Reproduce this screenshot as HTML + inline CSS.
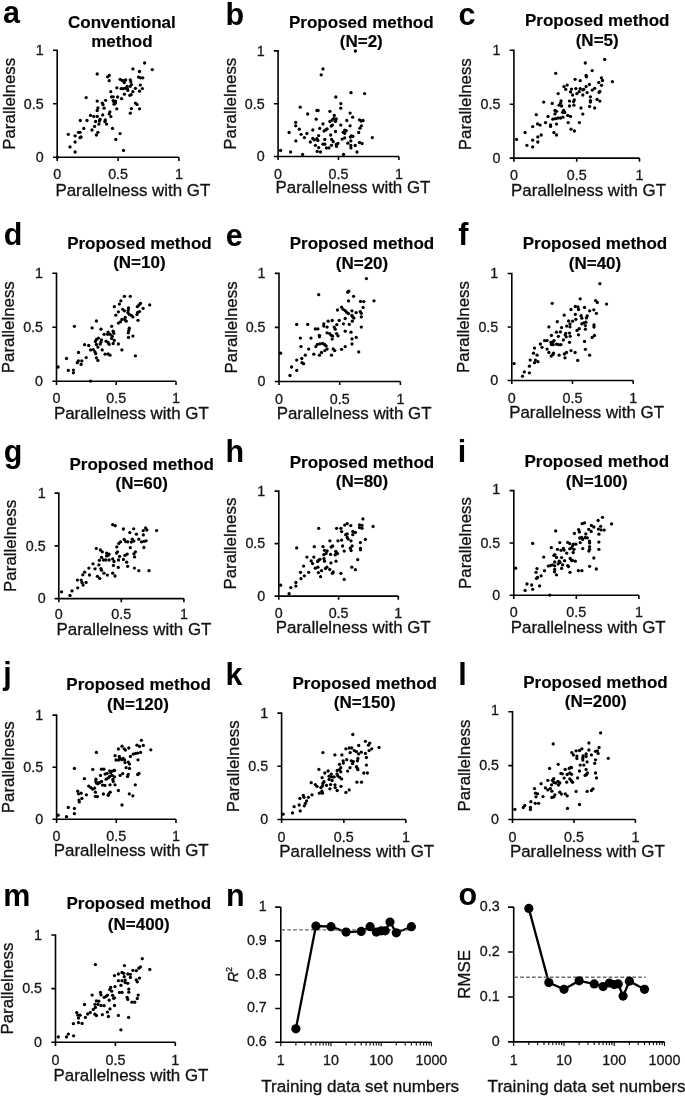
<!DOCTYPE html>
<html><head><meta charset="utf-8"><title>Figure</title>
<style>html,body{margin:0;padding:0;background:#fff}svg{display:block}text{font-family:'Liberation Sans', sans-serif;fill:#1a1a1a}.pl{font-size:30.5px;font-weight:bold;fill:#000}.tt{font-size:17px;font-weight:bold;text-anchor:middle;fill:#000;stroke:#000;stroke-width:.15px}.tk{font-size:14.3px;fill:#161616;stroke:#161616;stroke-width:.3px}.al{font-size:16.9px;fill:#111;stroke:#111;stroke-width:.3px}.ax{stroke:#000;stroke-width:1.6;fill:none}.d circle{fill:#000}</style></head><body>
<svg width="685" height="1098" viewBox="0 0 685 1098">
<rect width="685" height="1098" fill="#fff"/>
<g id="panel-a">
<text class="pl" x="3.1" y="22.8">a</text>
<text class="tt" x="121.9" y="27.6">Conventional</text>
<text class="tt" x="121.9" y="46.7">method</text>
<path class="ax" d="M53.0 50.2H57.2V157.3H178.9M53.0 103.8H57.2M53.0 157.3H57.2M57.2 157.3V160.9M118.1 157.3V160.9M178.9 157.3V160.9"/>
<text class="tk" text-anchor="end" x="43.7" y="55.0">1</text>
<text class="tk" text-anchor="end" x="43.7" y="108.5">0.5</text>
<text class="tk" text-anchor="end" x="43.7" y="162.1">0</text>
<text class="tk" text-anchor="middle" x="57.2" y="179.3">0</text>
<text class="tk" text-anchor="middle" x="118.1" y="179.3">0.5</text>
<text class="tk" text-anchor="middle" x="178.9" y="179.3">1</text>
<text class="al" x="55.4" y="196.3">Parallelness with GT</text>
<text class="al" text-anchor="middle" transform="translate(14.7 103.8) rotate(-90)">Parallelness</text>
<g class="d">
<circle cx="97.2" cy="74.0" r="1.65"/>
<circle cx="107.6" cy="76.8" r="1.65"/>
<circle cx="109.2" cy="75.5" r="1.65"/>
<circle cx="109.2" cy="80.7" r="1.65"/>
<circle cx="110.8" cy="91.7" r="1.65"/>
<circle cx="111.5" cy="96.8" r="1.65"/>
<circle cx="113.2" cy="96.8" r="1.65"/>
<circle cx="86.2" cy="97.6" r="1.65"/>
<circle cx="97.2" cy="101.1" r="1.65"/>
<circle cx="105.6" cy="100.3" r="1.65"/>
<circle cx="102.3" cy="103.1" r="1.65"/>
<circle cx="103.0" cy="104.7" r="1.65"/>
<circle cx="113.2" cy="100.6" r="1.65"/>
<circle cx="114.3" cy="102.3" r="1.65"/>
<circle cx="114.1" cy="104.2" r="1.65"/>
<circle cx="104.1" cy="108.2" r="1.65"/>
<circle cx="97.9" cy="108.0" r="1.65"/>
<circle cx="97.2" cy="110.5" r="1.65"/>
<circle cx="109.9" cy="111.8" r="1.65"/>
<circle cx="109.2" cy="113.9" r="1.65"/>
<circle cx="110.9" cy="116.6" r="1.65"/>
<circle cx="90.5" cy="115.4" r="1.65"/>
<circle cx="93.8" cy="116.4" r="1.65"/>
<circle cx="97.2" cy="116.4" r="1.65"/>
<circle cx="102.7" cy="114.9" r="1.65"/>
<circle cx="100.0" cy="119.5" r="1.65"/>
<circle cx="99.5" cy="121.0" r="1.65"/>
<circle cx="105.3" cy="120.0" r="1.65"/>
<circle cx="104.9" cy="121.5" r="1.65"/>
<circle cx="95.6" cy="121.5" r="1.65"/>
<circle cx="80.3" cy="120.5" r="1.65"/>
<circle cx="87.0" cy="120.5" r="1.65"/>
<circle cx="98.9" cy="124.1" r="1.65"/>
<circle cx="106.6" cy="124.1" r="1.65"/>
<circle cx="94.6" cy="126.4" r="1.65"/>
<circle cx="83.8" cy="128.4" r="1.65"/>
<circle cx="112.5" cy="128.4" r="1.65"/>
<circle cx="92.0" cy="130.0" r="1.65"/>
<circle cx="97.9" cy="132.3" r="1.65"/>
<circle cx="96.4" cy="135.0" r="1.65"/>
<circle cx="78.5" cy="132.3" r="1.65"/>
<circle cx="80.0" cy="132.3" r="1.65"/>
<circle cx="68.3" cy="134.3" r="1.65"/>
<circle cx="75.1" cy="135.8" r="1.65"/>
<circle cx="81.1" cy="136.9" r="1.65"/>
<circle cx="80.0" cy="137.7" r="1.65"/>
<circle cx="75.1" cy="142.0" r="1.65"/>
<circle cx="70.0" cy="146.9" r="1.65"/>
<circle cx="75.1" cy="152.0" r="1.65"/>
<circle cx="57.6" cy="157.3" r="1.65"/>
<circle cx="144.6" cy="63.0" r="1.65"/>
<circle cx="132.9" cy="68.9" r="1.65"/>
<circle cx="152.3" cy="69.6" r="1.65"/>
<circle cx="139.5" cy="71.5" r="1.65"/>
<circle cx="138.5" cy="77.1" r="1.65"/>
<circle cx="140.5" cy="77.8" r="1.65"/>
<circle cx="142.8" cy="77.8" r="1.65"/>
<circle cx="120.1" cy="79.3" r="1.65"/>
<circle cx="122.2" cy="80.4" r="1.65"/>
<circle cx="124.2" cy="80.7" r="1.65"/>
<circle cx="125.7" cy="79.9" r="1.65"/>
<circle cx="124.2" cy="82.5" r="1.65"/>
<circle cx="130.3" cy="79.8" r="1.65"/>
<circle cx="130.8" cy="81.7" r="1.65"/>
<circle cx="131.4" cy="84.7" r="1.65"/>
<circle cx="130.3" cy="86.3" r="1.65"/>
<circle cx="140.3" cy="85.1" r="1.65"/>
<circle cx="142.4" cy="88.6" r="1.65"/>
<circle cx="139.5" cy="91.2" r="1.65"/>
<circle cx="116.8" cy="87.8" r="1.65"/>
<circle cx="121.1" cy="88.6" r="1.65"/>
<circle cx="123.2" cy="88.6" r="1.65"/>
<circle cx="125.2" cy="88.3" r="1.65"/>
<circle cx="127.1" cy="86.3" r="1.65"/>
<circle cx="127.3" cy="88.3" r="1.65"/>
<circle cx="127.8" cy="90.4" r="1.65"/>
<circle cx="135.4" cy="88.3" r="1.65"/>
<circle cx="132.9" cy="91.7" r="1.65"/>
<circle cx="129.8" cy="95.3" r="1.65"/>
<circle cx="131.1" cy="94.7" r="1.65"/>
<circle cx="124.4" cy="94.2" r="1.65"/>
<circle cx="117.6" cy="97.0" r="1.65"/>
<circle cx="121.6" cy="98.7" r="1.65"/>
<circle cx="115.5" cy="101.1" r="1.65"/>
<circle cx="115.5" cy="103.1" r="1.65"/>
<circle cx="116.8" cy="108.8" r="1.65"/>
<circle cx="135.4" cy="103.1" r="1.65"/>
<circle cx="137.0" cy="104.4" r="1.65"/>
<circle cx="131.4" cy="108.6" r="1.65"/>
<circle cx="139.5" cy="108.8" r="1.65"/>
<circle cx="130.3" cy="113.2" r="1.65"/>
<circle cx="120.1" cy="133.6" r="1.65"/>
<circle cx="115.8" cy="139.4" r="1.65"/>
<circle cx="123.5" cy="150.4" r="1.65"/>
</g>
</g>
<g id="panel-b">
<text class="pl" x="225.6" y="25.1">b</text>
<text class="tt" x="361.3" y="27.6">Proposed method</text>
<text class="tt" x="361.3" y="46.9">(N=2)</text>
<path class="ax" d="M273.9 50.9H278.1V156.5H398.9M273.9 103.7H278.1M273.9 156.5H278.1M278.1 156.5V160.1M338.5 156.5V160.1M398.9 156.5V160.1"/>
<text class="tk" text-anchor="end" x="264.6" y="55.7">1</text>
<text class="tk" text-anchor="end" x="264.6" y="108.5">0.5</text>
<text class="tk" text-anchor="end" x="264.6" y="161.3">0</text>
<text class="tk" text-anchor="middle" x="278.1" y="178.5">0</text>
<text class="tk" text-anchor="middle" x="338.5" y="178.5">0.5</text>
<text class="tk" text-anchor="middle" x="398.9" y="178.5">1</text>
<text class="al" x="275.5" y="193.2">Parallelness with GT</text>
<text class="al" text-anchor="middle" transform="translate(235.6 103.7) rotate(-90)">Parallelness</text>
<g class="d">
<circle cx="323.0" cy="68.9" r="1.65"/>
<circle cx="321.2" cy="74.8" r="1.65"/>
<circle cx="300.2" cy="107.2" r="1.65"/>
<circle cx="316.9" cy="110.5" r="1.65"/>
<circle cx="318.1" cy="110.5" r="1.65"/>
<circle cx="329.9" cy="111.3" r="1.65"/>
<circle cx="307.7" cy="114.0" r="1.65"/>
<circle cx="334.3" cy="115.4" r="1.65"/>
<circle cx="316.2" cy="119.2" r="1.65"/>
<circle cx="332.2" cy="120.0" r="1.65"/>
<circle cx="333.8" cy="118.7" r="1.65"/>
<circle cx="329.9" cy="121.5" r="1.65"/>
<circle cx="295.7" cy="122.4" r="1.65"/>
<circle cx="295.7" cy="125.8" r="1.65"/>
<circle cx="323.0" cy="123.9" r="1.65"/>
<circle cx="331.2" cy="126.1" r="1.65"/>
<circle cx="332.4" cy="125.1" r="1.65"/>
<circle cx="319.7" cy="128.4" r="1.65"/>
<circle cx="299.3" cy="129.2" r="1.65"/>
<circle cx="312.8" cy="130.0" r="1.65"/>
<circle cx="327.1" cy="129.0" r="1.65"/>
<circle cx="325.6" cy="129.9" r="1.65"/>
<circle cx="324.1" cy="131.0" r="1.65"/>
<circle cx="289.1" cy="132.5" r="1.65"/>
<circle cx="306.9" cy="133.5" r="1.65"/>
<circle cx="301.1" cy="134.3" r="1.65"/>
<circle cx="330.7" cy="135.0" r="1.65"/>
<circle cx="318.6" cy="135.6" r="1.65"/>
<circle cx="304.4" cy="137.6" r="1.65"/>
<circle cx="312.8" cy="138.4" r="1.65"/>
<circle cx="314.3" cy="139.9" r="1.65"/>
<circle cx="316.9" cy="138.7" r="1.65"/>
<circle cx="317.9" cy="140.4" r="1.65"/>
<circle cx="324.8" cy="139.4" r="1.65"/>
<circle cx="331.7" cy="139.4" r="1.65"/>
<circle cx="295.9" cy="140.9" r="1.65"/>
<circle cx="310.3" cy="142.0" r="1.65"/>
<circle cx="333.2" cy="141.7" r="1.65"/>
<circle cx="323.0" cy="144.2" r="1.65"/>
<circle cx="324.8" cy="144.2" r="1.65"/>
<circle cx="315.4" cy="145.3" r="1.65"/>
<circle cx="331.5" cy="145.3" r="1.65"/>
<circle cx="318.7" cy="147.6" r="1.65"/>
<circle cx="326.4" cy="147.9" r="1.65"/>
<circle cx="328.9" cy="147.9" r="1.65"/>
<circle cx="280.6" cy="150.5" r="1.65"/>
<circle cx="317.2" cy="151.4" r="1.65"/>
<circle cx="320.5" cy="152.0" r="1.65"/>
<circle cx="290.6" cy="152.0" r="1.65"/>
<circle cx="302.6" cy="154.4" r="1.65"/>
<circle cx="355.4" cy="51.0" r="1.65"/>
<circle cx="351.0" cy="92.7" r="1.65"/>
<circle cx="364.6" cy="93.6" r="1.65"/>
<circle cx="335.8" cy="97.0" r="1.65"/>
<circle cx="340.8" cy="103.6" r="1.65"/>
<circle cx="340.8" cy="108.2" r="1.65"/>
<circle cx="350.1" cy="113.1" r="1.65"/>
<circle cx="352.7" cy="117.2" r="1.65"/>
<circle cx="346.8" cy="120.5" r="1.65"/>
<circle cx="359.5" cy="119.8" r="1.65"/>
<circle cx="361.1" cy="121.0" r="1.65"/>
<circle cx="363.1" cy="120.5" r="1.65"/>
<circle cx="336.2" cy="119.0" r="1.65"/>
<circle cx="335.5" cy="121.3" r="1.65"/>
<circle cx="340.8" cy="125.1" r="1.65"/>
<circle cx="350.1" cy="125.8" r="1.65"/>
<circle cx="361.4" cy="125.8" r="1.65"/>
<circle cx="360.0" cy="128.2" r="1.65"/>
<circle cx="358.7" cy="132.5" r="1.65"/>
<circle cx="335.5" cy="131.5" r="1.65"/>
<circle cx="344.7" cy="130.2" r="1.65"/>
<circle cx="346.2" cy="130.7" r="1.65"/>
<circle cx="343.2" cy="132.3" r="1.65"/>
<circle cx="344.7" cy="133.3" r="1.65"/>
<circle cx="351.4" cy="135.8" r="1.65"/>
<circle cx="350.3" cy="137.1" r="1.65"/>
<circle cx="352.9" cy="136.4" r="1.65"/>
<circle cx="372.3" cy="137.6" r="1.65"/>
<circle cx="342.2" cy="139.1" r="1.65"/>
<circle cx="344.7" cy="137.9" r="1.65"/>
<circle cx="350.8" cy="140.9" r="1.65"/>
<circle cx="347.8" cy="143.2" r="1.65"/>
<circle cx="359.5" cy="142.5" r="1.65"/>
<circle cx="362.1" cy="143.5" r="1.65"/>
<circle cx="337.9" cy="143.5" r="1.65"/>
<circle cx="336.3" cy="144.5" r="1.65"/>
<circle cx="336.5" cy="146.4" r="1.65"/>
<circle cx="350.8" cy="145.5" r="1.65"/>
<circle cx="351.0" cy="147.9" r="1.65"/>
<circle cx="355.2" cy="145.5" r="1.65"/>
<circle cx="357.0" cy="152.0" r="1.65"/>
<circle cx="343.5" cy="154.4" r="1.65"/>
</g>
</g>
<g id="panel-c">
<text class="pl" x="458.5" y="24.6">c</text>
<text class="tt" x="597.2" y="26.2">Proposed method</text>
<text class="tt" x="597.2" y="46.1">(N=5)</text>
<path class="ax" d="M509.7 50.2H513.9V158.1H639.5M509.7 104.2H513.9M509.7 158.1H513.9M513.9 158.1V161.7M576.7 158.1V161.7M639.5 158.1V161.7"/>
<text class="tk" text-anchor="end" x="500.4" y="55.0">1</text>
<text class="tk" text-anchor="end" x="500.4" y="109.0">0.5</text>
<text class="tk" text-anchor="end" x="500.4" y="162.9">0</text>
<text class="tk" text-anchor="middle" x="513.9" y="180.1">0</text>
<text class="tk" text-anchor="middle" x="576.7" y="180.1">0.5</text>
<text class="tk" text-anchor="middle" x="639.5" y="180.1">1</text>
<text class="al" x="511.1" y="196.1">Parallelness with GT</text>
<text class="al" text-anchor="middle" transform="translate(471.4 104.2) rotate(-90)">Parallelness</text>
<g class="d">
<circle cx="555.7" cy="73.3" r="1.65"/>
<circle cx="567.2" cy="85.1" r="1.65"/>
<circle cx="564.0" cy="86.6" r="1.65"/>
<circle cx="565.7" cy="89.3" r="1.65"/>
<circle cx="558.2" cy="93.6" r="1.65"/>
<circle cx="543.7" cy="102.1" r="1.65"/>
<circle cx="552.2" cy="103.4" r="1.65"/>
<circle cx="561.1" cy="100.8" r="1.65"/>
<circle cx="560.6" cy="103.1" r="1.65"/>
<circle cx="559.1" cy="105.2" r="1.65"/>
<circle cx="561.6" cy="106.0" r="1.65"/>
<circle cx="569.5" cy="101.1" r="1.65"/>
<circle cx="569.5" cy="106.0" r="1.65"/>
<circle cx="555.0" cy="110.5" r="1.65"/>
<circle cx="556.5" cy="111.3" r="1.65"/>
<circle cx="555.0" cy="113.9" r="1.65"/>
<circle cx="563.6" cy="110.3" r="1.65"/>
<circle cx="562.6" cy="112.3" r="1.65"/>
<circle cx="564.7" cy="112.5" r="1.65"/>
<circle cx="536.3" cy="114.7" r="1.65"/>
<circle cx="548.0" cy="116.4" r="1.65"/>
<circle cx="567.7" cy="115.4" r="1.65"/>
<circle cx="552.9" cy="119.2" r="1.65"/>
<circle cx="555.5" cy="118.7" r="1.65"/>
<circle cx="558.0" cy="118.0" r="1.65"/>
<circle cx="560.6" cy="118.0" r="1.65"/>
<circle cx="562.9" cy="117.2" r="1.65"/>
<circle cx="568.2" cy="122.6" r="1.65"/>
<circle cx="545.5" cy="122.6" r="1.65"/>
<circle cx="537.6" cy="123.9" r="1.65"/>
<circle cx="540.1" cy="125.1" r="1.65"/>
<circle cx="556.5" cy="124.1" r="1.65"/>
<circle cx="550.6" cy="124.8" r="1.65"/>
<circle cx="550.6" cy="126.4" r="1.65"/>
<circle cx="532.7" cy="126.6" r="1.65"/>
<circle cx="525.1" cy="132.5" r="1.65"/>
<circle cx="553.9" cy="132.5" r="1.65"/>
<circle cx="556.5" cy="135.0" r="1.65"/>
<circle cx="541.2" cy="135.0" r="1.65"/>
<circle cx="537.8" cy="136.9" r="1.65"/>
<circle cx="516.6" cy="139.4" r="1.65"/>
<circle cx="532.7" cy="140.2" r="1.65"/>
<circle cx="537.8" cy="142.0" r="1.65"/>
<circle cx="526.9" cy="145.3" r="1.65"/>
<circle cx="532.7" cy="146.9" r="1.65"/>
<circle cx="604.7" cy="59.5" r="1.65"/>
<circle cx="585.3" cy="63.0" r="1.65"/>
<circle cx="592.2" cy="70.6" r="1.65"/>
<circle cx="586.1" cy="75.5" r="1.65"/>
<circle cx="586.4" cy="76.8" r="1.65"/>
<circle cx="575.1" cy="79.3" r="1.65"/>
<circle cx="580.2" cy="80.7" r="1.65"/>
<circle cx="601.4" cy="77.8" r="1.65"/>
<circle cx="602.5" cy="80.5" r="1.65"/>
<circle cx="598.8" cy="82.5" r="1.65"/>
<circle cx="601.5" cy="85.3" r="1.65"/>
<circle cx="612.4" cy="81.7" r="1.65"/>
<circle cx="589.4" cy="84.5" r="1.65"/>
<circle cx="586.1" cy="86.6" r="1.65"/>
<circle cx="571.5" cy="89.1" r="1.65"/>
<circle cx="570.5" cy="91.9" r="1.65"/>
<circle cx="575.9" cy="88.6" r="1.65"/>
<circle cx="580.2" cy="88.6" r="1.65"/>
<circle cx="582.8" cy="89.9" r="1.65"/>
<circle cx="583.8" cy="89.3" r="1.65"/>
<circle cx="579.2" cy="91.7" r="1.65"/>
<circle cx="576.9" cy="93.7" r="1.65"/>
<circle cx="572.6" cy="95.0" r="1.65"/>
<circle cx="594.7" cy="88.3" r="1.65"/>
<circle cx="592.3" cy="90.1" r="1.65"/>
<circle cx="587.1" cy="92.6" r="1.65"/>
<circle cx="599.1" cy="92.4" r="1.65"/>
<circle cx="599.9" cy="91.4" r="1.65"/>
<circle cx="582.8" cy="95.0" r="1.65"/>
<circle cx="590.4" cy="96.8" r="1.65"/>
<circle cx="574.3" cy="99.8" r="1.65"/>
<circle cx="573.6" cy="101.6" r="1.65"/>
<circle cx="590.4" cy="100.6" r="1.65"/>
<circle cx="590.4" cy="102.1" r="1.65"/>
<circle cx="597.1" cy="99.4" r="1.65"/>
<circle cx="599.8" cy="101.1" r="1.65"/>
<circle cx="573.9" cy="105.2" r="1.65"/>
<circle cx="589.6" cy="106.5" r="1.65"/>
<circle cx="594.7" cy="108.0" r="1.65"/>
<circle cx="581.0" cy="108.0" r="1.65"/>
<circle cx="582.8" cy="114.1" r="1.65"/>
<circle cx="570.5" cy="116.4" r="1.65"/>
<circle cx="579.4" cy="122.6" r="1.65"/>
<circle cx="571.0" cy="129.2" r="1.65"/>
<circle cx="574.4" cy="131.0" r="1.65"/>
</g>
</g>
<g id="panel-d">
<text class="pl" x="3.8" y="245.0">d</text>
<text class="tt" x="139.4" y="248.5">Proposed method</text>
<text class="tt" x="139.4" y="268.4">(N=10)</text>
<path class="ax" d="M52.3 273.2H56.5V381.3H176.0M52.3 327.2H56.5M52.3 381.3H56.5M56.5 381.3V384.9M116.2 381.3V384.9M176.0 381.3V384.9"/>
<text class="tk" text-anchor="end" x="43.0" y="278.0">1</text>
<text class="tk" text-anchor="end" x="43.0" y="332.1">0.5</text>
<text class="tk" text-anchor="end" x="43.0" y="386.1">0</text>
<text class="tk" text-anchor="middle" x="56.5" y="403.3">0</text>
<text class="tk" text-anchor="middle" x="116.2" y="403.3">0.5</text>
<text class="tk" text-anchor="middle" x="176.0" y="403.3">1</text>
<text class="al" x="53.9" y="419.3">Parallelness with GT</text>
<text class="al" text-anchor="middle" transform="translate(14.0 327.2) rotate(-90)">Parallelness</text>
<g class="d">
<circle cx="114.3" cy="306.7" r="1.65"/>
<circle cx="96.4" cy="321.0" r="1.65"/>
<circle cx="74.4" cy="326.3" r="1.65"/>
<circle cx="111.7" cy="326.3" r="1.65"/>
<circle cx="92.1" cy="327.9" r="1.65"/>
<circle cx="101.0" cy="329.2" r="1.65"/>
<circle cx="113.2" cy="331.2" r="1.65"/>
<circle cx="113.8" cy="333.3" r="1.65"/>
<circle cx="108.1" cy="332.2" r="1.65"/>
<circle cx="110.2" cy="334.3" r="1.65"/>
<circle cx="107.6" cy="334.3" r="1.65"/>
<circle cx="104.1" cy="334.3" r="1.65"/>
<circle cx="112.2" cy="336.3" r="1.65"/>
<circle cx="111.7" cy="338.4" r="1.65"/>
<circle cx="114.3" cy="340.4" r="1.65"/>
<circle cx="98.4" cy="338.2" r="1.65"/>
<circle cx="96.4" cy="339.4" r="1.65"/>
<circle cx="95.4" cy="341.4" r="1.65"/>
<circle cx="96.4" cy="344.5" r="1.65"/>
<circle cx="97.9" cy="347.1" r="1.65"/>
<circle cx="101.5" cy="339.9" r="1.65"/>
<circle cx="101.0" cy="342.0" r="1.65"/>
<circle cx="100.2" cy="344.0" r="1.65"/>
<circle cx="106.1" cy="341.2" r="1.65"/>
<circle cx="108.1" cy="342.5" r="1.65"/>
<circle cx="109.2" cy="344.3" r="1.65"/>
<circle cx="113.2" cy="343.5" r="1.65"/>
<circle cx="84.6" cy="344.7" r="1.65"/>
<circle cx="88.7" cy="345.5" r="1.65"/>
<circle cx="90.6" cy="349.9" r="1.65"/>
<circle cx="93.3" cy="349.6" r="1.65"/>
<circle cx="94.9" cy="351.7" r="1.65"/>
<circle cx="95.7" cy="353.7" r="1.65"/>
<circle cx="102.2" cy="349.9" r="1.65"/>
<circle cx="105.1" cy="354.2" r="1.65"/>
<circle cx="108.1" cy="354.0" r="1.65"/>
<circle cx="110.0" cy="355.2" r="1.65"/>
<circle cx="78.5" cy="352.5" r="1.65"/>
<circle cx="96.4" cy="357.8" r="1.65"/>
<circle cx="97.9" cy="360.4" r="1.65"/>
<circle cx="86.2" cy="357.6" r="1.65"/>
<circle cx="66.5" cy="358.5" r="1.65"/>
<circle cx="78.3" cy="360.9" r="1.65"/>
<circle cx="77.3" cy="362.7" r="1.65"/>
<circle cx="81.8" cy="360.9" r="1.65"/>
<circle cx="81.1" cy="364.4" r="1.65"/>
<circle cx="58.1" cy="367.0" r="1.65"/>
<circle cx="68.3" cy="370.4" r="1.65"/>
<circle cx="73.4" cy="370.1" r="1.65"/>
<circle cx="73.4" cy="372.8" r="1.65"/>
<circle cx="90.5" cy="381.1" r="1.65"/>
<circle cx="124.4" cy="296.3" r="1.65"/>
<circle cx="130.3" cy="296.3" r="1.65"/>
<circle cx="120.9" cy="300.8" r="1.65"/>
<circle cx="119.4" cy="304.1" r="1.65"/>
<circle cx="149.7" cy="304.9" r="1.65"/>
<circle cx="140.5" cy="303.4" r="1.65"/>
<circle cx="139.0" cy="305.0" r="1.65"/>
<circle cx="137.3" cy="306.7" r="1.65"/>
<circle cx="143.1" cy="308.4" r="1.65"/>
<circle cx="128.5" cy="308.0" r="1.65"/>
<circle cx="128.3" cy="310.3" r="1.65"/>
<circle cx="122.7" cy="309.3" r="1.65"/>
<circle cx="124.4" cy="310.8" r="1.65"/>
<circle cx="118.4" cy="311.8" r="1.65"/>
<circle cx="115.8" cy="315.2" r="1.65"/>
<circle cx="139.5" cy="311.6" r="1.65"/>
<circle cx="137.7" cy="312.3" r="1.65"/>
<circle cx="137.0" cy="314.4" r="1.65"/>
<circle cx="127.8" cy="312.6" r="1.65"/>
<circle cx="129.3" cy="314.4" r="1.65"/>
<circle cx="131.4" cy="315.4" r="1.65"/>
<circle cx="132.9" cy="316.9" r="1.65"/>
<circle cx="138.0" cy="320.3" r="1.65"/>
<circle cx="125.2" cy="317.4" r="1.65"/>
<circle cx="124.7" cy="319.5" r="1.65"/>
<circle cx="126.2" cy="321.2" r="1.65"/>
<circle cx="121.9" cy="319.5" r="1.65"/>
<circle cx="120.4" cy="321.8" r="1.65"/>
<circle cx="118.4" cy="323.1" r="1.65"/>
<circle cx="129.3" cy="328.2" r="1.65"/>
<circle cx="128.8" cy="330.4" r="1.65"/>
<circle cx="128.3" cy="332.8" r="1.65"/>
<circle cx="128.5" cy="337.4" r="1.65"/>
<circle cx="132.9" cy="336.1" r="1.65"/>
<circle cx="118.4" cy="344.0" r="1.65"/>
<circle cx="121.9" cy="349.9" r="1.65"/>
<circle cx="135.4" cy="355.8" r="1.65"/>
</g>
</g>
<g id="panel-e">
<text class="pl" x="225.7" y="246.3">e</text>
<text class="tt" x="362.0" y="248.8">Proposed method</text>
<text class="tt" x="362.0" y="269.0">(N=20)</text>
<path class="ax" d="M274.8 273.4H279.0V381.5H400.4M274.8 327.4H279.0M274.8 381.5H279.0M279.0 381.5V385.1M339.7 381.5V385.1M400.4 381.5V385.1"/>
<text class="tk" text-anchor="end" x="265.5" y="278.2">1</text>
<text class="tk" text-anchor="end" x="265.5" y="332.2">0.5</text>
<text class="tk" text-anchor="end" x="265.5" y="386.3">0</text>
<text class="tk" text-anchor="middle" x="279.0" y="403.5">0</text>
<text class="tk" text-anchor="middle" x="339.7" y="403.5">0.5</text>
<text class="tk" text-anchor="middle" x="400.4" y="403.5">1</text>
<text class="al" x="276.7" y="418.8">Parallelness with GT</text>
<text class="al" text-anchor="middle" transform="translate(236.5 327.4) rotate(-90)">Parallelness</text>
<g class="d">
<circle cx="318.7" cy="294.7" r="1.65"/>
<circle cx="332.2" cy="320.5" r="1.65"/>
<circle cx="328.1" cy="321.2" r="1.65"/>
<circle cx="296.7" cy="324.4" r="1.65"/>
<circle cx="307.7" cy="324.4" r="1.65"/>
<circle cx="323.8" cy="323.8" r="1.65"/>
<circle cx="323.8" cy="326.1" r="1.65"/>
<circle cx="336.8" cy="324.6" r="1.65"/>
<circle cx="334.2" cy="327.1" r="1.65"/>
<circle cx="335.2" cy="329.2" r="1.65"/>
<circle cx="327.1" cy="327.1" r="1.65"/>
<circle cx="315.3" cy="328.9" r="1.65"/>
<circle cx="317.9" cy="328.9" r="1.65"/>
<circle cx="327.1" cy="332.8" r="1.65"/>
<circle cx="329.6" cy="333.6" r="1.65"/>
<circle cx="331.2" cy="335.3" r="1.65"/>
<circle cx="332.7" cy="336.1" r="1.65"/>
<circle cx="336.6" cy="333.6" r="1.65"/>
<circle cx="319.4" cy="335.3" r="1.65"/>
<circle cx="319.4" cy="336.8" r="1.65"/>
<circle cx="332.2" cy="339.1" r="1.65"/>
<circle cx="300.3" cy="338.1" r="1.65"/>
<circle cx="311.0" cy="338.1" r="1.65"/>
<circle cx="317.4" cy="344.3" r="1.65"/>
<circle cx="315.8" cy="346.6" r="1.65"/>
<circle cx="319.9" cy="343.8" r="1.65"/>
<circle cx="322.5" cy="343.5" r="1.65"/>
<circle cx="324.5" cy="344.5" r="1.65"/>
<circle cx="326.1" cy="346.0" r="1.65"/>
<circle cx="301.0" cy="346.6" r="1.65"/>
<circle cx="308.7" cy="349.1" r="1.65"/>
<circle cx="327.1" cy="349.1" r="1.65"/>
<circle cx="324.8" cy="350.6" r="1.65"/>
<circle cx="333.2" cy="348.9" r="1.65"/>
<circle cx="334.7" cy="350.6" r="1.65"/>
<circle cx="321.5" cy="352.5" r="1.65"/>
<circle cx="319.4" cy="355.2" r="1.65"/>
<circle cx="313.8" cy="354.2" r="1.65"/>
<circle cx="331.5" cy="355.2" r="1.65"/>
<circle cx="280.6" cy="353.2" r="1.65"/>
<circle cx="305.3" cy="355.2" r="1.65"/>
<circle cx="301.8" cy="358.5" r="1.65"/>
<circle cx="296.7" cy="360.1" r="1.65"/>
<circle cx="302.0" cy="362.7" r="1.65"/>
<circle cx="303.6" cy="363.7" r="1.65"/>
<circle cx="291.6" cy="367.0" r="1.65"/>
<circle cx="296.7" cy="370.4" r="1.65"/>
<circle cx="290.0" cy="375.5" r="1.65"/>
<circle cx="366.4" cy="278.6" r="1.65"/>
<circle cx="347.7" cy="292.2" r="1.65"/>
<circle cx="348.8" cy="291.2" r="1.65"/>
<circle cx="353.6" cy="296.3" r="1.65"/>
<circle cx="348.5" cy="300.9" r="1.65"/>
<circle cx="374.0" cy="300.8" r="1.65"/>
<circle cx="360.5" cy="301.4" r="1.65"/>
<circle cx="363.8" cy="301.6" r="1.65"/>
<circle cx="363.1" cy="307.4" r="1.65"/>
<circle cx="341.6" cy="307.2" r="1.65"/>
<circle cx="343.1" cy="309.3" r="1.65"/>
<circle cx="345.2" cy="310.6" r="1.65"/>
<circle cx="346.7" cy="312.3" r="1.65"/>
<circle cx="348.4" cy="313.5" r="1.65"/>
<circle cx="337.5" cy="310.0" r="1.65"/>
<circle cx="352.0" cy="310.8" r="1.65"/>
<circle cx="356.2" cy="312.6" r="1.65"/>
<circle cx="360.3" cy="311.6" r="1.65"/>
<circle cx="361.3" cy="313.3" r="1.65"/>
<circle cx="361.3" cy="316.9" r="1.65"/>
<circle cx="351.8" cy="315.4" r="1.65"/>
<circle cx="352.8" cy="316.9" r="1.65"/>
<circle cx="353.9" cy="318.1" r="1.65"/>
<circle cx="345.2" cy="318.5" r="1.65"/>
<circle cx="352.3" cy="321.2" r="1.65"/>
<circle cx="339.2" cy="320.5" r="1.65"/>
<circle cx="343.4" cy="323.8" r="1.65"/>
<circle cx="349.3" cy="324.4" r="1.65"/>
<circle cx="361.3" cy="327.1" r="1.65"/>
<circle cx="345.2" cy="331.2" r="1.65"/>
<circle cx="351.0" cy="332.2" r="1.65"/>
<circle cx="338.0" cy="335.8" r="1.65"/>
<circle cx="356.2" cy="337.4" r="1.65"/>
<circle cx="352.0" cy="338.9" r="1.65"/>
<circle cx="352.0" cy="344.0" r="1.65"/>
<circle cx="345.2" cy="346.6" r="1.65"/>
<circle cx="341.6" cy="349.3" r="1.65"/>
<circle cx="358.7" cy="351.9" r="1.65"/>
</g>
</g>
<g id="panel-f">
<text class="pl" x="458.2" y="245.3">f</text>
<text class="tt" x="595.0" y="248.8">Proposed method</text>
<text class="tt" x="595.0" y="268.6">(N=40)</text>
<path class="ax" d="M507.6 273.5H511.8V380.5H633.2M507.6 327.0H511.8M507.6 380.5H511.8M511.8 380.5V384.1M572.5 380.5V384.1M633.2 380.5V384.1"/>
<text class="tk" text-anchor="end" x="498.3" y="278.3">1</text>
<text class="tk" text-anchor="end" x="498.3" y="331.8">0.5</text>
<text class="tk" text-anchor="end" x="498.3" y="385.3">0</text>
<text class="tk" text-anchor="middle" x="511.8" y="402.5">0</text>
<text class="tk" text-anchor="middle" x="572.5" y="402.5">0.5</text>
<text class="tk" text-anchor="middle" x="633.2" y="402.5">1</text>
<text class="al" x="509.2" y="417.5">Parallelness with GT</text>
<text class="al" text-anchor="middle" transform="translate(469.3 327.0) rotate(-90)">Parallelness</text>
<g class="d">
<circle cx="552.2" cy="303.3" r="1.65"/>
<circle cx="564.2" cy="315.2" r="1.65"/>
<circle cx="568.6" cy="321.0" r="1.65"/>
<circle cx="557.3" cy="321.7" r="1.65"/>
<circle cx="566.7" cy="326.1" r="1.65"/>
<circle cx="548.9" cy="326.9" r="1.65"/>
<circle cx="561.6" cy="327.6" r="1.65"/>
<circle cx="556.5" cy="332.2" r="1.65"/>
<circle cx="560.4" cy="331.9" r="1.65"/>
<circle cx="565.7" cy="333.3" r="1.65"/>
<circle cx="565.2" cy="334.8" r="1.65"/>
<circle cx="566.2" cy="336.8" r="1.65"/>
<circle cx="551.4" cy="335.5" r="1.65"/>
<circle cx="558.4" cy="336.3" r="1.65"/>
<circle cx="563.4" cy="339.9" r="1.65"/>
<circle cx="544.6" cy="340.6" r="1.65"/>
<circle cx="547.0" cy="340.6" r="1.65"/>
<circle cx="554.0" cy="340.6" r="1.65"/>
<circle cx="552.9" cy="342.0" r="1.65"/>
<circle cx="550.9" cy="342.3" r="1.65"/>
<circle cx="551.4" cy="344.5" r="1.65"/>
<circle cx="553.1" cy="344.7" r="1.65"/>
<circle cx="556.5" cy="344.2" r="1.65"/>
<circle cx="558.6" cy="344.7" r="1.65"/>
<circle cx="560.9" cy="344.7" r="1.65"/>
<circle cx="540.4" cy="344.0" r="1.65"/>
<circle cx="542.0" cy="347.3" r="1.65"/>
<circle cx="534.5" cy="348.1" r="1.65"/>
<circle cx="547.1" cy="349.1" r="1.65"/>
<circle cx="548.9" cy="352.5" r="1.65"/>
<circle cx="553.5" cy="353.2" r="1.65"/>
<circle cx="552.9" cy="354.7" r="1.65"/>
<circle cx="551.2" cy="356.1" r="1.65"/>
<circle cx="559.1" cy="355.2" r="1.65"/>
<circle cx="566.5" cy="352.5" r="1.65"/>
<circle cx="564.4" cy="354.0" r="1.65"/>
<circle cx="565.0" cy="357.8" r="1.65"/>
<circle cx="533.5" cy="353.2" r="1.65"/>
<circle cx="537.1" cy="355.2" r="1.65"/>
<circle cx="530.2" cy="360.1" r="1.65"/>
<circle cx="535.4" cy="360.1" r="1.65"/>
<circle cx="534.5" cy="362.7" r="1.65"/>
<circle cx="537.9" cy="361.7" r="1.65"/>
<circle cx="514.1" cy="363.6" r="1.65"/>
<circle cx="529.4" cy="366.2" r="1.65"/>
<circle cx="524.3" cy="371.9" r="1.65"/>
<circle cx="529.4" cy="372.8" r="1.65"/>
<circle cx="522.5" cy="376.2" r="1.65"/>
<circle cx="599.9" cy="283.7" r="1.65"/>
<circle cx="580.2" cy="298.8" r="1.65"/>
<circle cx="595.6" cy="300.6" r="1.65"/>
<circle cx="597.3" cy="302.4" r="1.65"/>
<circle cx="606.6" cy="304.1" r="1.65"/>
<circle cx="575.3" cy="306.5" r="1.65"/>
<circle cx="578.0" cy="306.9" r="1.65"/>
<circle cx="578.5" cy="309.5" r="1.65"/>
<circle cx="584.5" cy="307.4" r="1.65"/>
<circle cx="571.0" cy="309.5" r="1.65"/>
<circle cx="593.8" cy="309.8" r="1.65"/>
<circle cx="589.7" cy="310.8" r="1.65"/>
<circle cx="596.4" cy="313.3" r="1.65"/>
<circle cx="575.3" cy="314.4" r="1.65"/>
<circle cx="581.1" cy="315.7" r="1.65"/>
<circle cx="581.8" cy="318.2" r="1.65"/>
<circle cx="587.2" cy="315.9" r="1.65"/>
<circle cx="586.4" cy="317.9" r="1.65"/>
<circle cx="575.9" cy="319.3" r="1.65"/>
<circle cx="572.6" cy="321.2" r="1.65"/>
<circle cx="581.8" cy="323.8" r="1.65"/>
<circle cx="583.8" cy="322.8" r="1.65"/>
<circle cx="585.9" cy="322.2" r="1.65"/>
<circle cx="585.4" cy="325.6" r="1.65"/>
<circle cx="585.4" cy="329.2" r="1.65"/>
<circle cx="594.0" cy="324.9" r="1.65"/>
<circle cx="594.0" cy="327.1" r="1.65"/>
<circle cx="570.0" cy="324.1" r="1.65"/>
<circle cx="570.0" cy="326.8" r="1.65"/>
<circle cx="579.2" cy="328.7" r="1.65"/>
<circle cx="577.0" cy="330.4" r="1.65"/>
<circle cx="578.5" cy="334.8" r="1.65"/>
<circle cx="569.5" cy="333.1" r="1.65"/>
<circle cx="570.2" cy="336.3" r="1.65"/>
<circle cx="594.5" cy="335.5" r="1.65"/>
<circle cx="592.2" cy="337.4" r="1.65"/>
<circle cx="584.5" cy="341.4" r="1.65"/>
<circle cx="569.5" cy="342.3" r="1.65"/>
<circle cx="585.4" cy="349.3" r="1.65"/>
<circle cx="571.0" cy="350.6" r="1.65"/>
<circle cx="575.1" cy="352.5" r="1.65"/>
<circle cx="589.6" cy="355.2" r="1.65"/>
<circle cx="577.7" cy="360.4" r="1.65"/>
</g>
</g>
<g id="panel-g">
<text class="pl" x="3.8" y="461.5">g</text>
<text class="tt" x="141.7" y="469.5">Proposed method</text>
<text class="tt" x="141.7" y="488.5">(N=60)</text>
<path class="ax" d="M54.6 493.1H58.8V598.6H183.9M54.6 545.9H58.8M54.6 598.6H58.8M58.8 598.6V602.2M121.3 598.6V602.2M183.9 598.6V602.2"/>
<text class="tk" text-anchor="end" x="45.6" y="497.9">1</text>
<text class="tk" text-anchor="end" x="45.6" y="550.6">0.5</text>
<text class="tk" text-anchor="end" x="45.6" y="603.4">0</text>
<text class="tk" text-anchor="middle" x="58.8" y="619.3">0</text>
<text class="tk" text-anchor="middle" x="121.3" y="619.3">0.5</text>
<text class="tk" text-anchor="middle" x="183.9" y="619.3">1</text>
<text class="al" x="56.5" y="635.3">Parallelness with GT</text>
<text class="al" text-anchor="middle" transform="translate(16.3 545.9) rotate(-90)">Parallelness</text>
<g class="d">
<circle cx="112.7" cy="524.7" r="1.65"/>
<circle cx="115.2" cy="525.7" r="1.65"/>
<circle cx="116.8" cy="546.9" r="1.65"/>
<circle cx="96.3" cy="548.4" r="1.65"/>
<circle cx="100.4" cy="550.0" r="1.65"/>
<circle cx="102.3" cy="551.8" r="1.65"/>
<circle cx="116.6" cy="553.1" r="1.65"/>
<circle cx="106.6" cy="553.1" r="1.65"/>
<circle cx="109.1" cy="554.1" r="1.65"/>
<circle cx="106.6" cy="555.9" r="1.65"/>
<circle cx="108.1" cy="555.4" r="1.65"/>
<circle cx="101.5" cy="557.4" r="1.65"/>
<circle cx="99.4" cy="560.3" r="1.65"/>
<circle cx="103.5" cy="560.0" r="1.65"/>
<circle cx="105.8" cy="560.0" r="1.65"/>
<circle cx="109.1" cy="560.0" r="1.65"/>
<circle cx="112.7" cy="558.9" r="1.65"/>
<circle cx="114.0" cy="561.5" r="1.65"/>
<circle cx="93.0" cy="563.8" r="1.65"/>
<circle cx="98.9" cy="564.8" r="1.65"/>
<circle cx="113.4" cy="565.4" r="1.65"/>
<circle cx="88.9" cy="568.1" r="1.65"/>
<circle cx="95.0" cy="568.8" r="1.65"/>
<circle cx="100.9" cy="568.6" r="1.65"/>
<circle cx="101.5" cy="570.2" r="1.65"/>
<circle cx="104.0" cy="573.2" r="1.65"/>
<circle cx="107.4" cy="575.1" r="1.65"/>
<circle cx="112.7" cy="573.2" r="1.65"/>
<circle cx="115.0" cy="576.0" r="1.65"/>
<circle cx="84.6" cy="572.2" r="1.65"/>
<circle cx="82.8" cy="574.8" r="1.65"/>
<circle cx="89.5" cy="575.0" r="1.65"/>
<circle cx="97.4" cy="576.3" r="1.65"/>
<circle cx="99.7" cy="578.4" r="1.65"/>
<circle cx="77.4" cy="580.1" r="1.65"/>
<circle cx="81.2" cy="580.1" r="1.65"/>
<circle cx="82.0" cy="582.4" r="1.65"/>
<circle cx="83.1" cy="585.0" r="1.65"/>
<circle cx="86.1" cy="582.4" r="1.65"/>
<circle cx="77.7" cy="587.8" r="1.65"/>
<circle cx="72.0" cy="590.9" r="1.65"/>
<circle cx="61.6" cy="591.8" r="1.65"/>
<circle cx="70.0" cy="595.4" r="1.65"/>
<circle cx="123.4" cy="529.0" r="1.65"/>
<circle cx="133.7" cy="528.8" r="1.65"/>
<circle cx="129.8" cy="532.6" r="1.65"/>
<circle cx="136.4" cy="534.2" r="1.65"/>
<circle cx="145.6" cy="528.0" r="1.65"/>
<circle cx="146.9" cy="530.0" r="1.65"/>
<circle cx="143.3" cy="530.6" r="1.65"/>
<circle cx="156.6" cy="530.6" r="1.65"/>
<circle cx="143.3" cy="534.9" r="1.65"/>
<circle cx="124.2" cy="539.5" r="1.65"/>
<circle cx="125.7" cy="541.6" r="1.65"/>
<circle cx="127.7" cy="541.8" r="1.65"/>
<circle cx="120.6" cy="541.8" r="1.65"/>
<circle cx="118.8" cy="543.4" r="1.65"/>
<circle cx="132.3" cy="539.2" r="1.65"/>
<circle cx="133.9" cy="541.1" r="1.65"/>
<circle cx="131.3" cy="542.1" r="1.65"/>
<circle cx="138.8" cy="539.2" r="1.65"/>
<circle cx="141.5" cy="541.8" r="1.65"/>
<circle cx="144.1" cy="541.3" r="1.65"/>
<circle cx="146.1" cy="540.8" r="1.65"/>
<circle cx="130.3" cy="547.7" r="1.65"/>
<circle cx="143.9" cy="547.5" r="1.65"/>
<circle cx="135.4" cy="551.8" r="1.65"/>
<circle cx="133.9" cy="553.8" r="1.65"/>
<circle cx="134.6" cy="556.9" r="1.65"/>
<circle cx="127.2" cy="554.1" r="1.65"/>
<circle cx="125.0" cy="555.4" r="1.65"/>
<circle cx="119.6" cy="556.4" r="1.65"/>
<circle cx="117.5" cy="551.8" r="1.65"/>
<circle cx="118.5" cy="560.0" r="1.65"/>
<circle cx="123.4" cy="559.4" r="1.65"/>
<circle cx="126.7" cy="562.2" r="1.65"/>
<circle cx="118.3" cy="567.4" r="1.65"/>
<circle cx="127.7" cy="566.3" r="1.65"/>
<circle cx="134.4" cy="568.1" r="1.65"/>
<circle cx="138.8" cy="570.7" r="1.65"/>
<circle cx="149.0" cy="570.7" r="1.65"/>
</g>
</g>
<g id="panel-h">
<text class="pl" x="225.4" y="462.3">h</text>
<text class="tt" x="362.0" y="468.0">Proposed method</text>
<text class="tt" x="362.0" y="487.4">(N=80)</text>
<path class="ax" d="M274.6 491.1H278.8V596.1H398.3M274.6 543.6H278.8M274.6 596.1H278.8M278.8 596.1V599.7M338.6 596.1V599.7M398.3 596.1V599.7"/>
<text class="tk" text-anchor="end" x="265.3" y="495.9">1</text>
<text class="tk" text-anchor="end" x="265.3" y="548.4">0.5</text>
<text class="tk" text-anchor="end" x="265.3" y="600.9">0</text>
<text class="tk" text-anchor="middle" x="278.8" y="618.1">0</text>
<text class="tk" text-anchor="middle" x="338.6" y="618.1">0.5</text>
<text class="tk" text-anchor="middle" x="398.3" y="618.1">1</text>
<text class="al" x="275.8" y="633.4">Parallelness with GT</text>
<text class="al" text-anchor="middle" transform="translate(236.3 543.6) rotate(-90)">Parallelness</text>
<g class="d">
<circle cx="318.7" cy="528.3" r="1.65"/>
<circle cx="336.6" cy="528.3" r="1.65"/>
<circle cx="329.9" cy="540.8" r="1.65"/>
<circle cx="314.3" cy="546.7" r="1.65"/>
<circle cx="323.0" cy="546.7" r="1.65"/>
<circle cx="332.7" cy="546.0" r="1.65"/>
<circle cx="331.2" cy="547.0" r="1.65"/>
<circle cx="296.7" cy="547.9" r="1.65"/>
<circle cx="324.5" cy="550.3" r="1.65"/>
<circle cx="327.1" cy="551.0" r="1.65"/>
<circle cx="326.1" cy="553.4" r="1.65"/>
<circle cx="323.8" cy="554.7" r="1.65"/>
<circle cx="335.8" cy="551.3" r="1.65"/>
<circle cx="335.2" cy="554.9" r="1.65"/>
<circle cx="336.3" cy="552.8" r="1.65"/>
<circle cx="330.6" cy="554.4" r="1.65"/>
<circle cx="306.9" cy="557.1" r="1.65"/>
<circle cx="313.8" cy="557.1" r="1.65"/>
<circle cx="324.0" cy="558.7" r="1.65"/>
<circle cx="324.5" cy="561.2" r="1.65"/>
<circle cx="319.9" cy="559.3" r="1.65"/>
<circle cx="318.4" cy="560.3" r="1.65"/>
<circle cx="317.7" cy="561.5" r="1.65"/>
<circle cx="311.2" cy="561.0" r="1.65"/>
<circle cx="312.6" cy="563.6" r="1.65"/>
<circle cx="336.0" cy="561.2" r="1.65"/>
<circle cx="330.9" cy="562.9" r="1.65"/>
<circle cx="303.6" cy="566.1" r="1.65"/>
<circle cx="317.9" cy="567.2" r="1.65"/>
<circle cx="315.3" cy="568.2" r="1.65"/>
<circle cx="326.9" cy="567.2" r="1.65"/>
<circle cx="325.5" cy="568.5" r="1.65"/>
<circle cx="329.8" cy="569.5" r="1.65"/>
<circle cx="321.5" cy="570.7" r="1.65"/>
<circle cx="318.4" cy="572.6" r="1.65"/>
<circle cx="333.2" cy="572.0" r="1.65"/>
<circle cx="332.4" cy="573.3" r="1.65"/>
<circle cx="300.5" cy="572.3" r="1.65"/>
<circle cx="308.7" cy="572.3" r="1.65"/>
<circle cx="320.6" cy="576.7" r="1.65"/>
<circle cx="304.4" cy="575.8" r="1.65"/>
<circle cx="301.0" cy="578.7" r="1.65"/>
<circle cx="295.9" cy="582.5" r="1.65"/>
<circle cx="295.9" cy="586.1" r="1.65"/>
<circle cx="280.6" cy="585.2" r="1.65"/>
<circle cx="290.8" cy="587.6" r="1.65"/>
<circle cx="289.1" cy="593.7" r="1.65"/>
<circle cx="362.9" cy="518.9" r="1.65"/>
<circle cx="373.1" cy="526.5" r="1.65"/>
<circle cx="344.7" cy="525.1" r="1.65"/>
<circle cx="347.2" cy="523.7" r="1.65"/>
<circle cx="350.8" cy="525.6" r="1.65"/>
<circle cx="340.9" cy="528.3" r="1.65"/>
<circle cx="341.6" cy="531.6" r="1.65"/>
<circle cx="359.5" cy="524.9" r="1.65"/>
<circle cx="362.0" cy="525.3" r="1.65"/>
<circle cx="359.5" cy="527.6" r="1.65"/>
<circle cx="362.0" cy="528.3" r="1.65"/>
<circle cx="352.8" cy="531.4" r="1.65"/>
<circle cx="355.4" cy="532.4" r="1.65"/>
<circle cx="352.8" cy="534.7" r="1.65"/>
<circle cx="345.7" cy="534.7" r="1.65"/>
<circle cx="347.2" cy="533.9" r="1.65"/>
<circle cx="347.2" cy="537.5" r="1.65"/>
<circle cx="348.2" cy="539.1" r="1.65"/>
<circle cx="365.4" cy="539.4" r="1.65"/>
<circle cx="341.6" cy="540.1" r="1.65"/>
<circle cx="338.0" cy="540.8" r="1.65"/>
<circle cx="351.0" cy="540.8" r="1.65"/>
<circle cx="360.3" cy="542.6" r="1.65"/>
<circle cx="342.6" cy="546.0" r="1.65"/>
<circle cx="352.1" cy="546.0" r="1.65"/>
<circle cx="350.3" cy="548.2" r="1.65"/>
<circle cx="351.1" cy="550.6" r="1.65"/>
<circle cx="360.5" cy="548.5" r="1.65"/>
<circle cx="360.5" cy="549.8" r="1.65"/>
<circle cx="344.2" cy="551.1" r="1.65"/>
<circle cx="337.5" cy="553.6" r="1.65"/>
<circle cx="357.7" cy="559.7" r="1.65"/>
<circle cx="351.8" cy="567.2" r="1.65"/>
<circle cx="355.4" cy="569.7" r="1.65"/>
<circle cx="340.9" cy="573.3" r="1.65"/>
<circle cx="344.2" cy="579.4" r="1.65"/>
</g>
</g>
<g id="panel-i">
<text class="pl" x="457.8" y="462.3">i</text>
<text class="tt" x="596.8" y="467.3">Proposed method</text>
<text class="tt" x="596.8" y="486.5">(N=100)</text>
<path class="ax" d="M509.6 490.6H513.8V595.3H638.9M509.6 543.0H513.8M509.6 595.3H513.8M513.8 595.3V598.9M576.3 595.3V598.9M638.9 595.3V598.9"/>
<text class="tk" text-anchor="end" x="500.3" y="494.2">1</text>
<text class="tk" text-anchor="end" x="500.3" y="547.8">0.5</text>
<text class="tk" text-anchor="end" x="500.3" y="600.1">0</text>
<text class="tk" text-anchor="middle" x="513.8" y="617.3">0</text>
<text class="tk" text-anchor="middle" x="576.3" y="617.3">0.5</text>
<text class="tk" text-anchor="middle" x="638.9" y="617.3">1</text>
<text class="al" x="510.8" y="633.0">Parallelness with GT</text>
<text class="al" text-anchor="middle" transform="translate(471.3 543.0) rotate(-90)">Parallelness</text>
<g class="d">
<circle cx="555.7" cy="530.9" r="1.65"/>
<circle cx="532.7" cy="543.4" r="1.65"/>
<circle cx="559.8" cy="542.6" r="1.65"/>
<circle cx="567.7" cy="542.4" r="1.65"/>
<circle cx="569.7" cy="543.6" r="1.65"/>
<circle cx="551.3" cy="547.7" r="1.65"/>
<circle cx="557.5" cy="549.3" r="1.65"/>
<circle cx="563.4" cy="548.5" r="1.65"/>
<circle cx="561.1" cy="550.3" r="1.65"/>
<circle cx="564.1" cy="550.1" r="1.65"/>
<circle cx="569.7" cy="548.8" r="1.65"/>
<circle cx="571.3" cy="548.2" r="1.65"/>
<circle cx="566.7" cy="553.2" r="1.65"/>
<circle cx="554.9" cy="554.6" r="1.65"/>
<circle cx="553.9" cy="555.4" r="1.65"/>
<circle cx="556.5" cy="557.4" r="1.65"/>
<circle cx="561.6" cy="557.6" r="1.65"/>
<circle cx="543.7" cy="557.1" r="1.65"/>
<circle cx="570.2" cy="558.5" r="1.65"/>
<circle cx="571.6" cy="560.5" r="1.65"/>
<circle cx="564.6" cy="560.7" r="1.65"/>
<circle cx="559.2" cy="561.2" r="1.65"/>
<circle cx="560.0" cy="562.6" r="1.65"/>
<circle cx="558.2" cy="563.8" r="1.65"/>
<circle cx="554.7" cy="562.0" r="1.65"/>
<circle cx="548.3" cy="566.1" r="1.65"/>
<circle cx="550.3" cy="565.6" r="1.65"/>
<circle cx="552.4" cy="564.9" r="1.65"/>
<circle cx="554.7" cy="565.8" r="1.65"/>
<circle cx="562.6" cy="564.9" r="1.65"/>
<circle cx="567.7" cy="565.6" r="1.65"/>
<circle cx="568.5" cy="566.6" r="1.65"/>
<circle cx="561.6" cy="568.4" r="1.65"/>
<circle cx="515.6" cy="568.2" r="1.65"/>
<circle cx="537.0" cy="568.7" r="1.65"/>
<circle cx="536.0" cy="572.3" r="1.65"/>
<circle cx="544.5" cy="570.7" r="1.65"/>
<circle cx="554.7" cy="569.5" r="1.65"/>
<circle cx="554.4" cy="571.8" r="1.65"/>
<circle cx="556.5" cy="574.8" r="1.65"/>
<circle cx="570.0" cy="572.3" r="1.65"/>
<circle cx="541.1" cy="575.8" r="1.65"/>
<circle cx="537.5" cy="577.4" r="1.65"/>
<circle cx="536.5" cy="578.4" r="1.65"/>
<circle cx="527.0" cy="584.0" r="1.65"/>
<circle cx="531.7" cy="585.0" r="1.65"/>
<circle cx="539.6" cy="585.9" r="1.65"/>
<circle cx="532.7" cy="589.3" r="1.65"/>
<circle cx="525.1" cy="590.4" r="1.65"/>
<circle cx="549.8" cy="595.1" r="1.65"/>
<circle cx="602.5" cy="517.3" r="1.65"/>
<circle cx="598.1" cy="520.5" r="1.65"/>
<circle cx="611.6" cy="523.9" r="1.65"/>
<circle cx="582.2" cy="523.7" r="1.65"/>
<circle cx="584.5" cy="522.9" r="1.65"/>
<circle cx="591.4" cy="525.5" r="1.65"/>
<circle cx="593.8" cy="527.0" r="1.65"/>
<circle cx="600.6" cy="526.3" r="1.65"/>
<circle cx="598.4" cy="529.1" r="1.65"/>
<circle cx="601.1" cy="529.9" r="1.65"/>
<circle cx="604.2" cy="530.1" r="1.65"/>
<circle cx="578.6" cy="529.6" r="1.65"/>
<circle cx="579.4" cy="531.9" r="1.65"/>
<circle cx="588.7" cy="529.3" r="1.65"/>
<circle cx="591.2" cy="531.4" r="1.65"/>
<circle cx="574.4" cy="533.4" r="1.65"/>
<circle cx="585.8" cy="533.9" r="1.65"/>
<circle cx="598.9" cy="534.2" r="1.65"/>
<circle cx="579.7" cy="538.0" r="1.65"/>
<circle cx="581.7" cy="537.5" r="1.65"/>
<circle cx="582.7" cy="539.4" r="1.65"/>
<circle cx="585.3" cy="537.5" r="1.65"/>
<circle cx="587.3" cy="537.8" r="1.65"/>
<circle cx="589.4" cy="541.1" r="1.65"/>
<circle cx="589.6" cy="542.9" r="1.65"/>
<circle cx="598.9" cy="542.1" r="1.65"/>
<circle cx="580.2" cy="542.6" r="1.65"/>
<circle cx="573.5" cy="544.2" r="1.65"/>
<circle cx="575.9" cy="544.2" r="1.65"/>
<circle cx="572.5" cy="546.0" r="1.65"/>
<circle cx="589.6" cy="546.7" r="1.65"/>
<circle cx="589.6" cy="549.3" r="1.65"/>
<circle cx="588.9" cy="551.1" r="1.65"/>
<circle cx="598.9" cy="549.3" r="1.65"/>
<circle cx="582.7" cy="548.6" r="1.65"/>
<circle cx="574.0" cy="549.3" r="1.65"/>
<circle cx="573.2" cy="552.5" r="1.65"/>
<circle cx="593.8" cy="558.0" r="1.65"/>
<circle cx="572.5" cy="560.5" r="1.65"/>
<circle cx="575.3" cy="561.2" r="1.65"/>
<circle cx="589.6" cy="566.3" r="1.65"/>
<circle cx="596.3" cy="569.0" r="1.65"/>
<circle cx="578.4" cy="570.7" r="1.65"/>
<circle cx="581.9" cy="570.7" r="1.65"/>
</g>
</g>
<g id="panel-j">
<text class="pl" x="3.3" y="684.4">j</text>
<text class="tt" style="font-size:17.0px" x="138.6" y="690.4">Proposed method</text>
<text class="tt" style="font-size:17.0px" x="138.0" y="710.0">(N=120)</text>
<path class="ax" d="M52.4 715.1H56.6V819.3H176.0M52.4 767.2H56.6M52.4 819.3H56.6M56.6 819.3V822.9M116.3 819.3V822.9M176.0 819.3V822.9"/>
<text class="tk" text-anchor="end" x="43.1" y="719.9">1</text>
<text class="tk" text-anchor="end" x="43.1" y="772.0">0.5</text>
<text class="tk" text-anchor="end" x="43.1" y="824.1">0</text>
<text class="tk" text-anchor="middle" x="56.6" y="840.6">0</text>
<text class="tk" text-anchor="middle" x="116.3" y="840.6">0.5</text>
<text class="tk" text-anchor="middle" x="176.0" y="840.6">1</text>
<text class="al" x="53.8" y="856.0">Parallelness with GT</text>
<text class="al" text-anchor="middle" transform="translate(14.1 767.2) rotate(-90)">Parallelness</text>
<g class="d">
<circle cx="96.4" cy="752.4" r="1.65"/>
<circle cx="74.4" cy="768.4" r="1.65"/>
<circle cx="92.8" cy="769.4" r="1.65"/>
<circle cx="101.5" cy="769.2" r="1.65"/>
<circle cx="103.9" cy="769.2" r="1.65"/>
<circle cx="109.7" cy="770.8" r="1.65"/>
<circle cx="111.7" cy="771.3" r="1.65"/>
<circle cx="113.8" cy="770.5" r="1.65"/>
<circle cx="110.7" cy="772.8" r="1.65"/>
<circle cx="105.1" cy="774.1" r="1.65"/>
<circle cx="107.1" cy="773.3" r="1.65"/>
<circle cx="100.5" cy="775.4" r="1.65"/>
<circle cx="112.2" cy="775.4" r="1.65"/>
<circle cx="109.7" cy="776.4" r="1.65"/>
<circle cx="108.2" cy="777.9" r="1.65"/>
<circle cx="106.1" cy="779.2" r="1.65"/>
<circle cx="84.4" cy="778.7" r="1.65"/>
<circle cx="95.9" cy="779.2" r="1.65"/>
<circle cx="95.9" cy="781.5" r="1.65"/>
<circle cx="112.8" cy="779.4" r="1.65"/>
<circle cx="113.3" cy="781.5" r="1.65"/>
<circle cx="101.5" cy="781.5" r="1.65"/>
<circle cx="99.5" cy="782.5" r="1.65"/>
<circle cx="97.9" cy="783.8" r="1.65"/>
<circle cx="96.4" cy="783.0" r="1.65"/>
<circle cx="102.5" cy="785.1" r="1.65"/>
<circle cx="104.9" cy="785.4" r="1.65"/>
<circle cx="110.0" cy="784.8" r="1.65"/>
<circle cx="88.7" cy="786.1" r="1.65"/>
<circle cx="90.8" cy="787.6" r="1.65"/>
<circle cx="92.8" cy="789.2" r="1.65"/>
<circle cx="94.7" cy="788.1" r="1.65"/>
<circle cx="95.4" cy="792.2" r="1.65"/>
<circle cx="77.7" cy="791.2" r="1.65"/>
<circle cx="78.5" cy="793.8" r="1.65"/>
<circle cx="81.1" cy="793.2" r="1.65"/>
<circle cx="110.2" cy="792.2" r="1.65"/>
<circle cx="108.7" cy="793.8" r="1.65"/>
<circle cx="108.2" cy="795.3" r="1.65"/>
<circle cx="103.4" cy="794.0" r="1.65"/>
<circle cx="86.4" cy="794.8" r="1.65"/>
<circle cx="95.4" cy="796.3" r="1.65"/>
<circle cx="97.4" cy="796.6" r="1.65"/>
<circle cx="81.9" cy="798.4" r="1.65"/>
<circle cx="79.0" cy="800.1" r="1.65"/>
<circle cx="79.3" cy="801.9" r="1.65"/>
<circle cx="68.3" cy="807.5" r="1.65"/>
<circle cx="74.4" cy="808.4" r="1.65"/>
<circle cx="74.4" cy="813.7" r="1.65"/>
<circle cx="58.1" cy="815.2" r="1.65"/>
<circle cx="66.5" cy="816.7" r="1.65"/>
<circle cx="141.4" cy="740.3" r="1.65"/>
<circle cx="137.0" cy="745.2" r="1.65"/>
<circle cx="139.5" cy="746.4" r="1.65"/>
<circle cx="143.3" cy="745.4" r="1.65"/>
<circle cx="150.8" cy="749.8" r="1.65"/>
<circle cx="122.0" cy="746.2" r="1.65"/>
<circle cx="124.2" cy="748.8" r="1.65"/>
<circle cx="125.4" cy="750.1" r="1.65"/>
<circle cx="128.8" cy="748.0" r="1.65"/>
<circle cx="118.4" cy="749.0" r="1.65"/>
<circle cx="140.6" cy="752.4" r="1.65"/>
<circle cx="137.7" cy="753.1" r="1.65"/>
<circle cx="135.5" cy="753.4" r="1.65"/>
<circle cx="133.2" cy="754.1" r="1.65"/>
<circle cx="130.4" cy="756.5" r="1.65"/>
<circle cx="115.0" cy="755.7" r="1.65"/>
<circle cx="119.3" cy="756.5" r="1.65"/>
<circle cx="120.1" cy="758.5" r="1.65"/>
<circle cx="118.6" cy="760.0" r="1.65"/>
<circle cx="121.7" cy="759.8" r="1.65"/>
<circle cx="123.2" cy="758.5" r="1.65"/>
<circle cx="116.0" cy="760.0" r="1.65"/>
<circle cx="124.7" cy="760.0" r="1.65"/>
<circle cx="125.0" cy="762.6" r="1.65"/>
<circle cx="128.3" cy="762.1" r="1.65"/>
<circle cx="129.5" cy="764.1" r="1.65"/>
<circle cx="138.0" cy="759.8" r="1.65"/>
<circle cx="126.1" cy="767.7" r="1.65"/>
<circle cx="129.5" cy="768.4" r="1.65"/>
<circle cx="114.5" cy="770.5" r="1.65"/>
<circle cx="139.0" cy="773.5" r="1.65"/>
<circle cx="137.7" cy="774.5" r="1.65"/>
<circle cx="122.7" cy="773.6" r="1.65"/>
<circle cx="120.1" cy="775.4" r="1.65"/>
<circle cx="128.3" cy="774.3" r="1.65"/>
<circle cx="127.6" cy="776.4" r="1.65"/>
<circle cx="114.5" cy="776.9" r="1.65"/>
<circle cx="115.0" cy="784.8" r="1.65"/>
<circle cx="135.3" cy="784.8" r="1.65"/>
<circle cx="118.4" cy="790.5" r="1.65"/>
<circle cx="129.3" cy="793.8" r="1.65"/>
<circle cx="132.9" cy="795.8" r="1.65"/>
<circle cx="122.0" cy="805.0" r="1.65"/>
</g>
</g>
<g id="panel-k">
<text class="pl" x="225.5" y="685.3">k</text>
<text class="tt" x="364.7" y="689.1">Proposed method</text>
<text class="tt" x="364.7" y="708.1">(N=150)</text>
<path class="ax" d="M277.4 713.1H281.6V819.5H405.9M277.4 766.3H281.6M277.4 819.5H281.6M281.6 819.5V823.1M343.8 819.5V823.1M405.9 819.5V823.1"/>
<text class="tk" text-anchor="end" x="268.1" y="717.9">1</text>
<text class="tk" text-anchor="end" x="268.1" y="771.1">0.5</text>
<text class="tk" text-anchor="end" x="268.1" y="824.3">0</text>
<text class="tk" text-anchor="middle" x="281.6" y="841.5">0</text>
<text class="tk" text-anchor="middle" x="343.8" y="841.5">0.5</text>
<text class="tk" text-anchor="middle" x="405.9" y="841.5">1</text>
<text class="al" x="279.3" y="856.8">Parallelness with GT</text>
<text class="al" text-anchor="middle" transform="translate(239.1 766.3) rotate(-90)">Parallelness</text>
<g class="d">
<circle cx="322.9" cy="752.6" r="1.65"/>
<circle cx="334.9" cy="754.9" r="1.65"/>
<circle cx="318.9" cy="769.4" r="1.65"/>
<circle cx="337.2" cy="770.5" r="1.65"/>
<circle cx="328.1" cy="771.0" r="1.65"/>
<circle cx="324.8" cy="773.0" r="1.65"/>
<circle cx="337.0" cy="773.8" r="1.65"/>
<circle cx="337.8" cy="775.9" r="1.65"/>
<circle cx="331.3" cy="774.1" r="1.65"/>
<circle cx="329.1" cy="776.2" r="1.65"/>
<circle cx="331.6" cy="776.9" r="1.65"/>
<circle cx="334.2" cy="776.9" r="1.65"/>
<circle cx="322.1" cy="777.7" r="1.65"/>
<circle cx="329.1" cy="779.4" r="1.65"/>
<circle cx="332.1" cy="780.5" r="1.65"/>
<circle cx="324.0" cy="781.7" r="1.65"/>
<circle cx="322.9" cy="783.5" r="1.65"/>
<circle cx="311.2" cy="782.7" r="1.65"/>
<circle cx="330.6" cy="784.6" r="1.65"/>
<circle cx="335.0" cy="784.8" r="1.65"/>
<circle cx="326.5" cy="785.4" r="1.65"/>
<circle cx="315.3" cy="784.6" r="1.65"/>
<circle cx="317.0" cy="786.4" r="1.65"/>
<circle cx="322.4" cy="786.1" r="1.65"/>
<circle cx="320.9" cy="787.6" r="1.65"/>
<circle cx="335.2" cy="787.6" r="1.65"/>
<circle cx="337.2" cy="790.5" r="1.65"/>
<circle cx="329.9" cy="788.8" r="1.65"/>
<circle cx="321.9" cy="791.2" r="1.65"/>
<circle cx="319.4" cy="793.2" r="1.65"/>
<circle cx="322.4" cy="793.2" r="1.65"/>
<circle cx="312.0" cy="794.8" r="1.65"/>
<circle cx="303.3" cy="795.3" r="1.65"/>
<circle cx="304.0" cy="797.3" r="1.65"/>
<circle cx="308.4" cy="797.3" r="1.65"/>
<circle cx="299.9" cy="798.4" r="1.65"/>
<circle cx="306.6" cy="800.9" r="1.65"/>
<circle cx="305.4" cy="803.3" r="1.65"/>
<circle cx="304.3" cy="805.8" r="1.65"/>
<circle cx="299.2" cy="805.0" r="1.65"/>
<circle cx="294.1" cy="806.7" r="1.65"/>
<circle cx="300.2" cy="810.9" r="1.65"/>
<circle cx="292.5" cy="812.9" r="1.65"/>
<circle cx="283.1" cy="814.2" r="1.65"/>
<circle cx="352.8" cy="734.5" r="1.65"/>
<circle cx="365.4" cy="741.3" r="1.65"/>
<circle cx="369.7" cy="743.2" r="1.65"/>
<circle cx="368.4" cy="745.2" r="1.65"/>
<circle cx="358.7" cy="745.4" r="1.65"/>
<circle cx="379.1" cy="747.5" r="1.65"/>
<circle cx="345.9" cy="748.8" r="1.65"/>
<circle cx="349.2" cy="748.0" r="1.65"/>
<circle cx="351.8" cy="748.0" r="1.65"/>
<circle cx="371.7" cy="748.8" r="1.65"/>
<circle cx="369.1" cy="750.6" r="1.65"/>
<circle cx="354.3" cy="750.6" r="1.65"/>
<circle cx="356.4" cy="751.6" r="1.65"/>
<circle cx="350.2" cy="752.6" r="1.65"/>
<circle cx="361.3" cy="752.2" r="1.65"/>
<circle cx="358.6" cy="753.9" r="1.65"/>
<circle cx="365.4" cy="753.4" r="1.65"/>
<circle cx="341.9" cy="754.9" r="1.65"/>
<circle cx="366.4" cy="757.5" r="1.65"/>
<circle cx="357.9" cy="758.5" r="1.65"/>
<circle cx="357.4" cy="760.8" r="1.65"/>
<circle cx="346.7" cy="759.7" r="1.65"/>
<circle cx="343.1" cy="760.8" r="1.65"/>
<circle cx="343.4" cy="763.1" r="1.65"/>
<circle cx="351.3" cy="760.8" r="1.65"/>
<circle cx="353.3" cy="761.6" r="1.65"/>
<circle cx="352.5" cy="763.6" r="1.65"/>
<circle cx="339.5" cy="764.3" r="1.65"/>
<circle cx="366.4" cy="765.1" r="1.65"/>
<circle cx="356.4" cy="766.7" r="1.65"/>
<circle cx="357.4" cy="768.4" r="1.65"/>
<circle cx="357.9" cy="769.7" r="1.65"/>
<circle cx="350.0" cy="767.7" r="1.65"/>
<circle cx="340.8" cy="767.7" r="1.65"/>
<circle cx="340.8" cy="771.8" r="1.65"/>
<circle cx="339.5" cy="769.7" r="1.65"/>
<circle cx="347.7" cy="771.1" r="1.65"/>
<circle cx="363.8" cy="773.0" r="1.65"/>
<circle cx="367.4" cy="773.0" r="1.65"/>
<circle cx="339.8" cy="777.4" r="1.65"/>
<circle cx="341.6" cy="778.9" r="1.65"/>
<circle cx="356.9" cy="782.2" r="1.65"/>
<circle cx="361.5" cy="782.2" r="1.65"/>
<circle cx="341.0" cy="786.3" r="1.65"/>
<circle cx="349.2" cy="789.9" r="1.65"/>
<circle cx="345.9" cy="792.4" r="1.65"/>
</g>
</g>
<g id="panel-l">
<text class="pl" x="458.2" y="685.3">l</text>
<text class="tt" x="595.5" y="688.3">Proposed method</text>
<text class="tt" x="595.8" y="706.5">(N=200)</text>
<path class="ax" d="M508.3 711.8H512.5V819.5H635.4M508.3 765.6H512.5M508.3 819.5H512.5M512.5 819.5V823.1M574.0 819.5V823.1M635.4 819.5V823.1"/>
<text class="tk" text-anchor="end" x="499.0" y="715.4">1</text>
<text class="tk" text-anchor="end" x="499.0" y="770.4">0.5</text>
<text class="tk" text-anchor="end" x="499.0" y="824.3">0</text>
<text class="tk" text-anchor="middle" x="512.5" y="841.5">0</text>
<text class="tk" text-anchor="middle" x="574.0" y="841.5">0.5</text>
<text class="tk" text-anchor="middle" x="635.4" y="841.5">1</text>
<text class="al" x="509.9" y="856.8">Parallelness with GT</text>
<text class="al" text-anchor="middle" transform="translate(470.0 765.6) rotate(-90)">Parallelness</text>
<g class="d">
<circle cx="553.2" cy="743.9" r="1.65"/>
<circle cx="558.2" cy="764.3" r="1.65"/>
<circle cx="549.6" cy="768.4" r="1.65"/>
<circle cx="570.8" cy="767.5" r="1.65"/>
<circle cx="569.2" cy="768.4" r="1.65"/>
<circle cx="565.2" cy="769.4" r="1.65"/>
<circle cx="560.9" cy="773.3" r="1.65"/>
<circle cx="562.3" cy="773.8" r="1.65"/>
<circle cx="569.8" cy="773.0" r="1.65"/>
<circle cx="567.2" cy="774.5" r="1.65"/>
<circle cx="564.1" cy="778.1" r="1.65"/>
<circle cx="569.8" cy="778.9" r="1.65"/>
<circle cx="566.7" cy="782.2" r="1.65"/>
<circle cx="547.8" cy="780.3" r="1.65"/>
<circle cx="553.7" cy="778.7" r="1.65"/>
<circle cx="552.4" cy="780.3" r="1.65"/>
<circle cx="558.0" cy="781.5" r="1.65"/>
<circle cx="559.8" cy="783.0" r="1.65"/>
<circle cx="558.5" cy="785.1" r="1.65"/>
<circle cx="556.0" cy="783.0" r="1.65"/>
<circle cx="553.9" cy="782.5" r="1.65"/>
<circle cx="551.6" cy="784.8" r="1.65"/>
<circle cx="541.1" cy="783.7" r="1.65"/>
<circle cx="534.5" cy="788.6" r="1.65"/>
<circle cx="545.4" cy="787.9" r="1.65"/>
<circle cx="547.8" cy="789.9" r="1.65"/>
<circle cx="550.3" cy="788.6" r="1.65"/>
<circle cx="551.9" cy="791.2" r="1.65"/>
<circle cx="559.8" cy="792.2" r="1.65"/>
<circle cx="561.4" cy="794.1" r="1.65"/>
<circle cx="565.2" cy="793.8" r="1.65"/>
<circle cx="567.2" cy="795.8" r="1.65"/>
<circle cx="554.9" cy="794.8" r="1.65"/>
<circle cx="553.9" cy="796.8" r="1.65"/>
<circle cx="551.9" cy="797.5" r="1.65"/>
<circle cx="535.5" cy="793.2" r="1.65"/>
<circle cx="537.6" cy="793.8" r="1.65"/>
<circle cx="536.0" cy="796.8" r="1.65"/>
<circle cx="543.0" cy="796.6" r="1.65"/>
<circle cx="530.9" cy="801.7" r="1.65"/>
<circle cx="535.2" cy="803.3" r="1.65"/>
<circle cx="538.6" cy="803.3" r="1.65"/>
<circle cx="524.8" cy="805.5" r="1.65"/>
<circle cx="523.3" cy="807.5" r="1.65"/>
<circle cx="530.4" cy="807.5" r="1.65"/>
<circle cx="530.4" cy="809.6" r="1.65"/>
<circle cx="567.5" cy="808.4" r="1.65"/>
<circle cx="514.9" cy="809.3" r="1.65"/>
<circle cx="600.6" cy="732.9" r="1.65"/>
<circle cx="588.9" cy="743.0" r="1.65"/>
<circle cx="599.1" cy="747.5" r="1.65"/>
<circle cx="581.9" cy="748.8" r="1.65"/>
<circle cx="579.5" cy="750.5" r="1.65"/>
<circle cx="576.1" cy="750.8" r="1.65"/>
<circle cx="588.9" cy="750.0" r="1.65"/>
<circle cx="595.5" cy="751.3" r="1.65"/>
<circle cx="597.4" cy="750.8" r="1.65"/>
<circle cx="598.1" cy="753.4" r="1.65"/>
<circle cx="571.8" cy="752.6" r="1.65"/>
<circle cx="573.4" cy="754.9" r="1.65"/>
<circle cx="586.1" cy="753.9" r="1.65"/>
<circle cx="586.1" cy="756.5" r="1.65"/>
<circle cx="591.4" cy="754.9" r="1.65"/>
<circle cx="576.9" cy="756.1" r="1.65"/>
<circle cx="576.9" cy="758.5" r="1.65"/>
<circle cx="583.1" cy="755.9" r="1.65"/>
<circle cx="582.8" cy="758.0" r="1.65"/>
<circle cx="582.8" cy="760.0" r="1.65"/>
<circle cx="608.3" cy="758.3" r="1.65"/>
<circle cx="595.5" cy="759.8" r="1.65"/>
<circle cx="594.7" cy="763.3" r="1.65"/>
<circle cx="587.1" cy="761.9" r="1.65"/>
<circle cx="580.2" cy="765.1" r="1.65"/>
<circle cx="583.8" cy="765.1" r="1.65"/>
<circle cx="571.5" cy="767.7" r="1.65"/>
<circle cx="586.1" cy="769.4" r="1.65"/>
<circle cx="579.5" cy="771.0" r="1.65"/>
<circle cx="587.4" cy="773.0" r="1.65"/>
<circle cx="586.5" cy="774.5" r="1.65"/>
<circle cx="585.1" cy="775.4" r="1.65"/>
<circle cx="595.5" cy="773.0" r="1.65"/>
<circle cx="571.5" cy="774.3" r="1.65"/>
<circle cx="577.6" cy="777.9" r="1.65"/>
<circle cx="596.5" cy="777.9" r="1.65"/>
<circle cx="571.3" cy="780.7" r="1.65"/>
<circle cx="572.6" cy="782.3" r="1.65"/>
<circle cx="576.1" cy="791.4" r="1.65"/>
<circle cx="587.1" cy="791.4" r="1.65"/>
<circle cx="593.0" cy="788.8" r="1.65"/>
<circle cx="591.4" cy="790.5" r="1.65"/>
<circle cx="579.5" cy="804.5" r="1.65"/>
</g>
</g>
<g id="panel-m">
<text class="pl" x="3.3" y="905.8">m</text>
<text class="tt" style="font-size:17.0px" x="138.8" y="909.3">Proposed method</text>
<text class="tt" style="font-size:17.0px" x="138.8" y="930.0">(N=400)</text>
<path class="ax" d="M51.3 935.0H55.5V1042.3H175.3M51.3 988.6H55.5M51.3 1042.3H55.5M55.5 1042.3V1045.9M115.4 1042.3V1045.9M175.3 1042.3V1045.9"/>
<text class="tk" text-anchor="end" x="42.0" y="939.8">1</text>
<text class="tk" text-anchor="end" x="42.0" y="993.4">0.5</text>
<text class="tk" text-anchor="end" x="42.0" y="1047.1">0</text>
<text class="tk" text-anchor="middle" x="55.5" y="1064.8">0</text>
<text class="tk" text-anchor="middle" x="115.4" y="1064.8">0.5</text>
<text class="tk" text-anchor="middle" x="175.3" y="1064.8">1</text>
<text class="al" x="53.5" y="1081.3">Parallelness with GT</text>
<text class="al" text-anchor="middle" transform="translate(13.0 988.6) rotate(-90)">Parallelness</text>
<g class="d">
<circle cx="95.4" cy="964.6" r="1.65"/>
<circle cx="110.7" cy="987.4" r="1.65"/>
<circle cx="109.7" cy="989.6" r="1.65"/>
<circle cx="111.7" cy="991.2" r="1.65"/>
<circle cx="100.5" cy="992.4" r="1.65"/>
<circle cx="101.0" cy="994.8" r="1.65"/>
<circle cx="92.1" cy="995.1" r="1.65"/>
<circle cx="107.6" cy="995.1" r="1.65"/>
<circle cx="106.1" cy="996.3" r="1.65"/>
<circle cx="104.1" cy="997.3" r="1.65"/>
<circle cx="112.6" cy="995.3" r="1.65"/>
<circle cx="113.6" cy="998.3" r="1.65"/>
<circle cx="109.2" cy="1000.2" r="1.65"/>
<circle cx="96.4" cy="1000.9" r="1.65"/>
<circle cx="98.8" cy="1001.2" r="1.65"/>
<circle cx="94.9" cy="1004.3" r="1.65"/>
<circle cx="97.9" cy="1004.3" r="1.65"/>
<circle cx="101.0" cy="1005.5" r="1.65"/>
<circle cx="104.1" cy="1005.7" r="1.65"/>
<circle cx="84.5" cy="1004.5" r="1.65"/>
<circle cx="95.4" cy="1007.5" r="1.65"/>
<circle cx="93.3" cy="1009.4" r="1.65"/>
<circle cx="110.0" cy="1008.9" r="1.65"/>
<circle cx="90.3" cy="1012.4" r="1.65"/>
<circle cx="87.7" cy="1014.0" r="1.65"/>
<circle cx="107.4" cy="1012.1" r="1.65"/>
<circle cx="76.7" cy="1012.6" r="1.65"/>
<circle cx="78.0" cy="1015.2" r="1.65"/>
<circle cx="80.1" cy="1015.2" r="1.65"/>
<circle cx="78.5" cy="1018.1" r="1.65"/>
<circle cx="94.9" cy="1014.2" r="1.65"/>
<circle cx="96.4" cy="1015.5" r="1.65"/>
<circle cx="102.3" cy="1014.7" r="1.65"/>
<circle cx="108.4" cy="1016.5" r="1.65"/>
<circle cx="85.4" cy="1017.4" r="1.65"/>
<circle cx="78.5" cy="1022.6" r="1.65"/>
<circle cx="82.1" cy="1023.4" r="1.65"/>
<circle cx="73.4" cy="1023.7" r="1.65"/>
<circle cx="68.3" cy="1034.1" r="1.65"/>
<circle cx="66.5" cy="1036.9" r="1.65"/>
<circle cx="73.6" cy="1035.8" r="1.65"/>
<circle cx="58.3" cy="1036.9" r="1.65"/>
<circle cx="142.3" cy="958.7" r="1.65"/>
<circle cx="124.4" cy="965.6" r="1.65"/>
<circle cx="149.8" cy="969.5" r="1.65"/>
<circle cx="140.4" cy="967.0" r="1.65"/>
<circle cx="138.8" cy="968.2" r="1.65"/>
<circle cx="132.9" cy="970.4" r="1.65"/>
<circle cx="136.3" cy="970.7" r="1.65"/>
<circle cx="122.0" cy="972.5" r="1.65"/>
<circle cx="123.7" cy="973.3" r="1.65"/>
<circle cx="118.4" cy="974.0" r="1.65"/>
<circle cx="114.5" cy="975.6" r="1.65"/>
<circle cx="127.8" cy="974.0" r="1.65"/>
<circle cx="130.4" cy="974.3" r="1.65"/>
<circle cx="130.4" cy="977.4" r="1.65"/>
<circle cx="124.2" cy="976.7" r="1.65"/>
<circle cx="139.5" cy="978.1" r="1.65"/>
<circle cx="136.3" cy="979.9" r="1.65"/>
<circle cx="137.3" cy="981.8" r="1.65"/>
<circle cx="118.4" cy="980.7" r="1.65"/>
<circle cx="122.0" cy="980.7" r="1.65"/>
<circle cx="125.2" cy="980.1" r="1.65"/>
<circle cx="125.2" cy="982.5" r="1.65"/>
<circle cx="127.8" cy="983.3" r="1.65"/>
<circle cx="120.9" cy="985.3" r="1.65"/>
<circle cx="115.0" cy="986.6" r="1.65"/>
<circle cx="128.8" cy="989.1" r="1.65"/>
<circle cx="128.8" cy="992.2" r="1.65"/>
<circle cx="119.4" cy="992.4" r="1.65"/>
<circle cx="122.0" cy="992.4" r="1.65"/>
<circle cx="138.2" cy="995.1" r="1.65"/>
<circle cx="137.3" cy="998.5" r="1.65"/>
<circle cx="127.1" cy="997.3" r="1.65"/>
<circle cx="127.8" cy="999.4" r="1.65"/>
<circle cx="114.5" cy="997.8" r="1.65"/>
<circle cx="131.9" cy="1002.2" r="1.65"/>
<circle cx="134.7" cy="1002.2" r="1.65"/>
<circle cx="114.5" cy="1005.5" r="1.65"/>
<circle cx="118.4" cy="1015.4" r="1.65"/>
<circle cx="128.6" cy="1017.4" r="1.65"/>
<circle cx="120.9" cy="1029.8" r="1.65"/>
</g>
</g>
<g id="panel-n">
<text class="pl" x="226.0" y="905.6">n</text>
<path class="ax" d="M280.8 907.1V1042.3H431.4M275.2 907.1H280.8M275.2 940.9H280.8M275.2 974.7H280.8M275.2 1008.5H280.8M275.2 1042.3H280.8"/>
<path class="ax" style="stroke-width:1.1" d="M280.8 1042.3v4.0M295.9 1042.3v3.2M304.8 1042.3v3.2M311.0 1042.3v3.2M315.9 1042.3v3.2M319.9 1042.3v3.2M323.2 1042.3v3.2M326.1 1042.3v3.2M328.7 1042.3v3.2M331.0 1042.3v4.0M346.1 1042.3v3.2M355.0 1042.3v3.2M361.2 1042.3v3.2M366.1 1042.3v3.2M370.1 1042.3v3.2M373.4 1042.3v3.2M376.3 1042.3v3.2M378.9 1042.3v3.2M381.2 1042.3v4.0M396.3 1042.3v3.2M405.2 1042.3v3.2M411.4 1042.3v3.2M416.3 1042.3v3.2M420.3 1042.3v3.2M423.6 1042.3v3.2M426.5 1042.3v3.2M429.1 1042.3v3.2M431.4 1042.3v4.0"/>
<text class="tk" text-anchor="end" x="266.8" y="910.9">1</text>
<text class="tk" text-anchor="end" x="266.8" y="944.7">0.9</text>
<text class="tk" text-anchor="end" x="266.8" y="978.5">0.8</text>
<text class="tk" text-anchor="end" x="266.8" y="1012.3">0.7</text>
<text class="tk" text-anchor="end" x="266.8" y="1046.1">0.6</text>
<text class="tk" text-anchor="middle" x="280.8" y="1065.3">1</text>
<text class="tk" text-anchor="middle" x="331.0" y="1065.3">10</text>
<text class="tk" text-anchor="middle" x="381.2" y="1065.3">100</text>
<text class="tk" text-anchor="middle" x="431.4" y="1065.3">1000</text>
<text class="al" style="font-size:17.1px" x="261.2" y="1092.3">Training data set numbers</text>
<text class="al" text-anchor="middle" transform="translate(237.6 974.7) rotate(-90)" style="font-size:14.5px"><tspan font-style="italic">R</tspan><tspan dy="-5.5" style="font-size:8.5px">2</tspan></text>
<polyline points="295.9,1028.8 315.9,926.0 331.0,926.7 346.1,932.1 361.2,931.4 370.1,926.7 376.3,932.1 381.2,930.8 385.2,930.8 390.0,922.0 396.3,932.8 411.4,926.7" fill="none" stroke="#000" stroke-width="2.3" stroke-linejoin="round"/>
<path d="M281.4 929.9H412.5" stroke="#6a6a6a" stroke-width="1.4" stroke-dasharray="3.7 2.2" fill="none"/>
<circle cx="295.9" cy="1028.8" r="4.6" fill="#000"/>
<circle cx="315.9" cy="926.0" r="4.6" fill="#000"/>
<circle cx="331.0" cy="926.7" r="4.6" fill="#000"/>
<circle cx="346.1" cy="932.1" r="4.6" fill="#000"/>
<circle cx="361.2" cy="931.4" r="4.6" fill="#000"/>
<circle cx="370.1" cy="926.7" r="4.6" fill="#000"/>
<circle cx="376.3" cy="932.1" r="4.6" fill="#000"/>
<circle cx="381.2" cy="930.8" r="4.6" fill="#000"/>
<circle cx="385.2" cy="930.8" r="4.6" fill="#000"/>
<circle cx="390.0" cy="922.0" r="4.6" fill="#000"/>
<circle cx="396.3" cy="932.8" r="4.6" fill="#000"/>
<circle cx="411.4" cy="926.7" r="4.6" fill="#000"/>
</g>
<g id="panel-o">
<text class="pl" x="458.5" y="905.4">o</text>
<path class="ax" d="M513.7 907.1V1041.9H664.5M508.1 907.1H513.7M508.1 952.0H513.7M508.1 997.0H513.7M508.1 1041.9H513.7"/>
<path class="ax" style="stroke-width:1.1" d="M513.7 1041.9v4.0M528.8 1041.9v3.2M537.7 1041.9v3.2M544.0 1041.9v3.2M548.8 1041.9v3.2M552.8 1041.9v3.2M556.2 1041.9v3.2M559.1 1041.9v3.2M561.7 1041.9v3.2M564.0 1041.9v4.0M579.1 1041.9v3.2M588.0 1041.9v3.2M594.2 1041.9v3.2M599.1 1041.9v3.2M603.1 1041.9v3.2M606.5 1041.9v3.2M609.4 1041.9v3.2M611.9 1041.9v3.2M614.2 1041.9v4.0M629.4 1041.9v3.2M638.2 1041.9v3.2M644.5 1041.9v3.2M649.4 1041.9v3.2M653.4 1041.9v3.2M656.7 1041.9v3.2M659.6 1041.9v3.2M662.2 1041.9v3.2M664.5 1041.9v4.0"/>
<text class="tk" text-anchor="end" x="499.7" y="910.9">0.3</text>
<text class="tk" text-anchor="end" x="499.7" y="955.8">0.2</text>
<text class="tk" text-anchor="end" x="499.7" y="1000.8">0.1</text>
<text class="tk" text-anchor="end" x="499.7" y="1045.7">0</text>
<text class="tk" text-anchor="middle" x="513.7" y="1064.9">1</text>
<text class="tk" text-anchor="middle" x="564.0" y="1064.9">10</text>
<text class="tk" text-anchor="middle" x="614.2" y="1064.9">100</text>
<text class="tk" text-anchor="middle" x="664.5" y="1064.9">1000</text>
<text class="al" style="font-size:17.1px" x="487.6" y="1092.3">Training data set numbers</text>
<text class="al" text-anchor="middle" transform="translate(470.4 974.5) rotate(-90)" style="font-size:17px">RMSE</text>
<polyline points="528.8,908.4 548.8,982.6 564.0,989.3 579.1,980.8 594.2,983.9 603.1,986.6 609.4,983.0 614.2,984.6 618.2,983.9 623.1,996.1 629.4,981.2 644.5,989.3" fill="none" stroke="#000" stroke-width="2.3" stroke-linejoin="round"/>
<path d="M514.3 977.2H645.6" stroke="#6a6a6a" stroke-width="1.4" stroke-dasharray="3.7 2.2" fill="none"/>
<circle cx="528.8" cy="908.4" r="4.6" fill="#000"/>
<circle cx="548.8" cy="982.6" r="4.6" fill="#000"/>
<circle cx="564.0" cy="989.3" r="4.6" fill="#000"/>
<circle cx="579.1" cy="980.8" r="4.6" fill="#000"/>
<circle cx="594.2" cy="983.9" r="4.6" fill="#000"/>
<circle cx="603.1" cy="986.6" r="4.6" fill="#000"/>
<circle cx="609.4" cy="983.0" r="4.6" fill="#000"/>
<circle cx="614.2" cy="984.6" r="4.6" fill="#000"/>
<circle cx="618.2" cy="983.9" r="4.6" fill="#000"/>
<circle cx="623.1" cy="996.1" r="4.6" fill="#000"/>
<circle cx="629.4" cy="981.2" r="4.6" fill="#000"/>
<circle cx="644.5" cy="989.3" r="4.6" fill="#000"/>
</g>
</svg></body></html>
